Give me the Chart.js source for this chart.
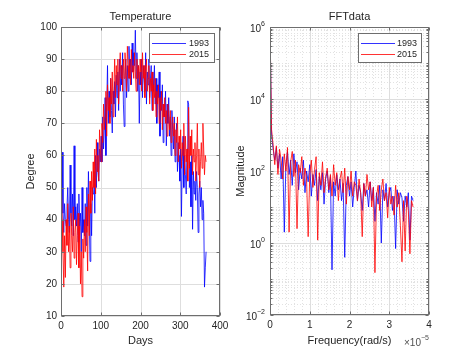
<!DOCTYPE html>
<html><head><meta charset="utf-8">
<script src="https://cdn.jsdelivr.net/npm/chart.js@4"></script>
<style>
html,body{margin:0;padding:0;background:#fff;}
#wrap{position:relative;width:474px;height:355px;overflow:hidden;}
canvas{position:absolute;top:0;}
#c1{left:0;} #c2{left:225px;}
</style></head><body>
<div id="wrap"><canvas id="c1" width="237" height="355"></canvas><canvas id="c2" width="249" height="355"></canvas></div>
<script>
// ---------------- DATA ----------------
const seriesLabels = ['1993', '2015'];
const firstDay = 1, dayStep = 2;          // one reading every 2 days
const temp1993 = [
 55,61,42,36,45,40,38,44,50,40, 36,57,42,38,48,35,63,40,44,38,
 45,33,48,38,42,30,50,36,40,35, 45,32,50,38,55,42,27,45,35,50,
 48,55,42,60,50,64,55,52,62,58, 66,58,72,62,68,78,60,75,88,70,
 80,72,84,74,67,80,76,83,72,85, 78,86,74,90,80,88,82,92,76,69,
 85,90,78,88,80,94,84,90,82,95, 86,92,88,99,84,92,80,88,70,86,
 82,90,78,88,84,80,92,76,86,82, 90,78,84,88,74,86,80,88,76,84,
 70,82,78,86,66,80,74,82,64,76, 72,80,63,76,70,78,66,72,60,74,
 68,62,72,58,66,70,55,64,60,52, 62,41,58,66,50,60,54,48,62,77,
 76,50,58,44,60,37,55,48,52,46, 55,50,36,48,52,44,50,40,46,42,
 19,25,30];
const temp2015 = [
 50,40,30,19,35,22,40,32,45,30, 38,25,42,35,30,44,28,36,40,26,
 35,42,25,38,20,30,16,34,28,40, 30,44,36,24,48,35,52,42,55,46,
 58,50,62,48,65,55,60,52,68,62, 58,70,64,76,68,72,80,66,82,74,
 78,70,84,76,86,72,80,90,78,88, 82,90,76,86,92,84,88,80,90,84,
 92,86,80,94,88,84,90,82,93,86, 88,84,92,86,80,90,84,88,82,90,
 86,80,92,84,88,78,86,90,80,84, 88,76,84,80,86,74,82,78,84,72,
 80,76,82,70,78,74,80,68,76,72, 78,70,74,66,76,72,68,74,64,70,
 72,66,70,60,68,64,72,58,66,62, 68,56,64,60,70,54,66,58,62,52,
 75,56,66,60,68,54,62,58,64,52, 60,70,54,62,50,58,64,56,70,62,
 54,60,58];
const freqStep = 0.04e-5;                 // rad/s between FFT bins shown
const fft1993 = [
 1.2e6,1000,400,200,450,120,300,60,250,2,
 150,350,80,200,40,300,90,180,30,120,
 60,200,25,100,50,150,20,80,40,110,
 15,70,30,90,12,60,100,25,70,0.18,
 50,20,80,30,60,15,45,0.4,40,70,
 20,50,10,35,100,15,40,25,8,45,
 20,30,10,50,15,35,4,25,12,40,
 1,30,15,45,10,25,35,8,20,0.7,
 30,12,25,18,4,20,10,25,1.2,20,
 15];
const fft2015 = [
 1.2e6,1400,500,150,500,80,400,200,60,300,
 100,450,2,180,350,70,200,2.5,150,90,
 250,40,120,60,1.5,80,200,35,110,250,
 1.2,90,40,180,25,70,120,30,80,20,
 150,40,90,15,60,100,25,120,12,70,
 30,100,20,50,40,15,60,25,1.5,45,
 20,80,30,50,10,35,0.15,20,40,8,
 30,60,15,25,5,35,12,20,6,40,
 10,25,3,0.3,15,0.6,20,8,0.5,15,
 10];
const dayTicks = [0,100,200,300,400];
const degreeTicks = [10,20,30,40,50,60,70,80,90,100];
const freqTickValues = [0,1e-5,2e-5,3e-5,4e-5];
const freqTickLabels = ['0','1','2','3','4'];
const magTickExps = [-2,0,2,4,6];

// ---------------- STYLE ----------------
const FONT = '"Liberation Sans", Arial, Helvetica, sans-serif';
const TXT = '#262626';
const COLORS = ['rgba(0,0,255,0.8)', 'rgba(255,0,0,0.8)'];
const GRID = 'rgb(222,222,222)', MINOR = 'rgb(226,226,226)', BOX = 'rgb(110,110,110)';

function fontStr(sz){ return sz + 'px ' + FONT; }

function decor(cfg){
  return {
    id: 'decor',
    beforeDatasetsDraw(chart){
      const {ctx, chartArea:a, scales:{x, y}} = chart;
      ctx.save(); ctx.lineWidth = 1;
      if (cfg.minorX || cfg.minorY){
        ctx.setLineDash([1,2]); ctx.strokeStyle = MINOR; ctx.beginPath();
        (cfg.minorX||[]).forEach(v => { const p = Math.round(x.getPixelForValue(v)) + 0.5; ctx.moveTo(p, a.top); ctx.lineTo(p, a.bottom); });
        (cfg.minorY||[]).forEach(v => { const p = Math.round(y.getPixelForValue(v)) + 0.5; ctx.moveTo(a.left, p); ctx.lineTo(a.right, p); });
        ctx.stroke(); ctx.setLineDash([]);
      }
      ctx.strokeStyle = GRID; ctx.beginPath();
      cfg.xMajor.forEach(v => { const p = Math.round(x.getPixelForValue(v)) + 0.5; ctx.moveTo(p, a.top); ctx.lineTo(p, a.bottom); });
      cfg.yMajor.forEach(v => { const p = Math.round(y.getPixelForValue(v)) + 0.5; ctx.moveTo(a.left, p); ctx.lineTo(a.right, p); });
      ctx.stroke(); ctx.restore();
    },
    afterDraw(chart){
      const {ctx, chartArea:a, scales:{x, y}} = chart;
      const ox = cfg.ox;
      ctx.save();
      const L = Math.round(a.left) + 0.5, R = Math.round(a.right) - 0.5, T = Math.round(a.top) + 0.5, B = Math.round(a.bottom) - 0.5;
      ctx.strokeStyle = BOX; ctx.lineWidth = 1;
      ctx.strokeRect(L, T, R - L, B - T);
      ctx.beginPath();
      cfg.xMajor.forEach(v => { const p = Math.round(x.getPixelForValue(v)) + 0.5; ctx.moveTo(p, B); ctx.lineTo(p, B - 3); ctx.moveTo(p, T); ctx.lineTo(p, T + 3); });
      cfg.yMajor.forEach(v => { const p = Math.round(y.getPixelForValue(v)) + 0.5; ctx.moveTo(L, p); ctx.lineTo(L + 3, p); ctx.moveTo(R, p); ctx.lineTo(R - 3, p); });
      (cfg.minorYTicks||[]).forEach(v => { const p = Math.round(y.getPixelForValue(v)) + 0.5; ctx.moveTo(L, p); ctx.lineTo(L + 2, p); ctx.moveTo(R, p); ctx.lineTo(R - 2, p); });
      ctx.stroke();
      ctx.fillStyle = TXT; ctx.textAlign = 'center'; ctx.textBaseline = 'middle';
      ctx.font = fontStr(11);
      ctx.fillText(cfg.title, (a.left + a.right) / 2, a.top - 10);
      ctx.fillText(cfg.xTitle, (a.left + a.right) / 2, 341);
      ctx.save(); ctx.translate(cfg.yTitleX - ox, (a.top + a.bottom) / 2); ctx.rotate(-Math.PI / 2);
      ctx.fillText(cfg.yTitle, 0, 0); ctx.restore();
      if (cfg.logLabels){
        cfg.logLabels.forEach(e => {
          const p = y.getPixelForValue(Math.pow(10, e));
          const exp = String(e).replace('-', '\u2212');
          ctx.font = fontStr(7); const ew = ctx.measureText(exp).width;
          const rx = a.left - 5;
          ctx.textAlign = 'right';
          ctx.fillText(exp, rx, p - 3);
          ctx.font = fontStr(10);
          ctx.fillText('10', rx - ew, p + 2);
        });
      }
      if (cfg.multiplier){
        ctx.textAlign = 'left';
        ctx.font = fontStr(10);
        const bx = a.right - 25;
        ctx.fillStyle = 'rgb(80,80,80)';
        ctx.fillText('\u00d710', bx, 343);
        const w = ctx.measureText('\u00d710').width;
        ctx.font = fontStr(7);
        ctx.fillText(cfg.multiplier, bx + w, 338);
      }
      const lg = cfg.legend;
      ctx.fillStyle = '#fff';
      ctx.fillRect(lg.x - ox, lg.y, lg.w, lg.h);
      ctx.strokeStyle = BOX; ctx.lineWidth = 1;
      ctx.strokeRect(lg.x - ox + 0.5, lg.y + 0.5, lg.w, lg.h);
      seriesLabels.forEach((lab, i) => {
        const ry = lg.rows[i] + 0.5;
        ctx.strokeStyle = COLORS[i]; ctx.lineWidth = 1; ctx.beginPath();
        ctx.moveTo(lg.x0 - ox, ry); ctx.lineTo(lg.x1 - ox, ry); ctx.stroke();
        ctx.fillStyle = TXT; ctx.font = fontStr(9); ctx.textAlign = 'left'; ctx.textBaseline = 'middle';
        ctx.fillText(lab, lg.tx - ox, ry);
      });
      ctx.restore();
    }
  };
}

function series(vals, xf){ return vals.map((v, i) => ({x: xf(i), y: v})); }
const dayOf = i => firstDay + i * dayStep;
const freqOf = i => i * freqStep;

function lineDs(label, data, color, order){
  return {label, data, borderColor: color, borderWidth: 1, pointRadius: 0, tension: 0, fill: false, order};
}

// ---------------- LEFT: Temperature ----------------
new Chart(document.getElementById('c1'), {
  type: 'line',
  data: { datasets: [
    lineDs(seriesLabels[0], series(temp1993, dayOf), COLORS[0], 2),
    lineDs(seriesLabels[1], series(temp2015, dayOf), COLORS[1], 1)
  ]},
  options: {
    responsive: false, animation: false, events: [],
    layout: { padding: {top: 27, right: 17, bottom: 0, left: 0} },
    plugins: { legend: {display: false}, tooltip: {enabled: false}, title: {display: false} },
    scales: {
      x: { type: 'linear', min: 0, max: 400,
        afterBuildTicks: s => { s.ticks = dayTicks.map(v => ({value: v})); },
        ticks: { font: {family: FONT, size: 10}, color: TXT, padding: 4, maxRotation: 0, autoSkip: false },
        grid: { display: false, drawTicks: false }, border: { display: false },
        afterFit: s => { s.height = 39; } },
      y: { type: 'linear', min: 10, max: 100,
        afterBuildTicks: s => { s.ticks = degreeTicks.map(v => ({value: v})); },
        ticks: { font: {family: FONT, size: 10}, color: TXT, padding: 4, autoSkip: false },
        grid: { display: false, drawTicks: false }, border: { display: false },
        afterFit: s => { s.width = 61; } }
    }
  },
  plugins: [decor({
    ox: 0, title: 'Temperature', xTitle: 'Days', yTitle: 'Degree', yTitleX: 31,
    xMajor: dayTicks, yMajor: degreeTicks,
    legend: {x: 149, y: 33, w: 65, h: 29, x0: 152, x1: 186, tx: 189, rows: [43, 54]}
  })]
});

// ---------------- RIGHT: FFTdata ----------------
const magMajor = magTickExps.map(e => Math.pow(10, e));
const magMinor = [];
for (let k = -2; k <= 5; k++) {
  for (let m = 1; m <= 9; m++) {
    if (m === 1 && k % 2 === 0) continue;
    magMinor.push(m * Math.pow(10, k));
  }
}
const freqMinor = [];
for (let i = 1; i < 20; i++) { if (i % 5 !== 0) freqMinor.push(i * 0.2e-5); }

new Chart(document.getElementById('c2'), {
  type: 'line',
  data: { datasets: [
    lineDs(seriesLabels[0], series(fft1993, freqOf), COLORS[0], 2),
    lineDs(seriesLabels[1], series(fft2015, freqOf), COLORS[1], 1)
  ]},
  options: {
    responsive: false, animation: false, events: [],
    layout: { padding: {top: 27, right: 45, bottom: 0, left: 0} },
    plugins: { legend: {display: false}, tooltip: {enabled: false}, title: {display: false} },
    scales: {
      x: { type: 'linear', min: 0, max: 4e-5,
        afterBuildTicks: s => { s.ticks = freqTickValues.map(v => ({value: v})); },
        ticks: { font: {family: FONT, size: 10}, color: TXT, padding: 4, maxRotation: 0, autoSkip: false,
          callback: (v, i) => freqTickLabels[i] },
        grid: { display: false, drawTicks: false }, border: { display: false },
        afterFit: s => { s.height = 40; } },
      y: { type: 'logarithmic', min: 1e-2, max: 1e6,
        ticks: { display: false },
        grid: { display: false, drawTicks: false }, border: { display: false },
        afterFit: s => { s.width = 45; } }
    }
  },
  plugins: [decor({
    ox: 225, title: 'FFTdata', xTitle: 'Frequency(rad/s)', yTitle: 'Magnitude', yTitleX: 241,
    xMajor: freqTickValues, yMajor: magMajor, minorX: freqMinor, minorY: magMinor, minorYTicks: magMinor,
    logLabels: magTickExps, multiplier: '\u22125',
    legend: {x: 358, y: 33, w: 63, h: 29, x0: 361, x1: 395, tx: 397, rows: [43, 54]}
  })]
});
</script>
</body></html>
